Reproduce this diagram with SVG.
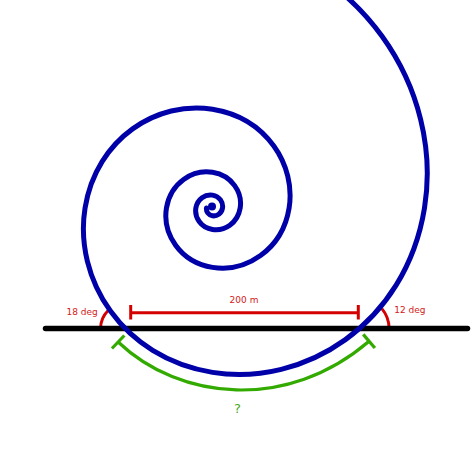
<svg xmlns="http://www.w3.org/2000/svg" width="474" height="474" viewBox="0 0 474 474">
  <style>
    .spiral { fill: none; stroke: #0000a8; stroke-width: 5; stroke-linecap: round; }
    .ground { fill: none; stroke: #000000; stroke-width: 5.5; stroke-linecap: round; }
    .red { fill: none; stroke: #d40000; stroke-width: 3; }
    .green { fill: none; stroke: #33aa00; stroke-width: 3.2; }
    .lbl { font-family: "DejaVu Sans", "Liberation Sans", sans-serif; }
    .lred { fill: #d42020; font-size: 9px; }
    .lgreen { fill: #44aa22; font-size: 13px; }
  </style>
  <rect width="474" height="474" fill="#ffffff"/>
  <g id="angle-arcs">
    <path class="red" d="M 100.6 328.5 A 25 25 0 0 1 107.9 310.8"/>
    <path class="red" d="M 389.1 328.5 A 31 31 0 0 0 381.85 308.6"/>
  </g>
  <g id="ground-line">
    <line class="ground" x1="45.5" y1="328.5" x2="467.5" y2="328.5"/>
  </g>
  <g id="spiral" transform="translate(0.5 1)">
    <path class="spiral" d="M 212 -66.43
      C 363.01 -41.97 442.97 89.92 424 207
      C 405.03 324.08 302.78 386.08 212 371.37
      C 121.22 356.66 73.16 277.38 84.56 207
      C 95.96 136.62 157.43 99.35 212 108.19
      C 266.57 117.03 295.46 164.69 288.61 207
      C 281.76 249.31 244.80 271.70 212 266.39
      C 179.20 261.08 161.83 232.43 165.95 207
      C 170.07 181.57 192.28 168.11 212 171.30
      C 231.72 174.49 242.16 191.71 239.68 207
      C 237.20 222.29 223.85 230.38 212 228.46
      C 200.15 226.54 193.87 216.19 195.36 207
      C 196.85 197.81 204.88 192.95 212 194.10
      C 219.12 195.25 222.89 201.48 222 207
      C 221.11 212.52 216.28 215.45 212 214.76
      C 207.72 214.07 205.45 210.32 205.99 207"/>
    <circle cx="211.5" cy="205.5" r="4" fill="#0000a8"/>
  </g>
  <g id="distance-200m">
    <line class="red" x1="130.7" y1="312.7" x2="358.3" y2="312.7"/>
    <line class="red" x1="130.7" y1="305" x2="130.7" y2="319.5"/>
    <line class="red" x1="358.3" y1="305" x2="358.3" y2="319.5"/>
    <text class="lbl lred" x="244" y="303.3" text-anchor="middle" font-size="8.5">200 m</text>
  </g>
  <g id="arc-length">
    <path class="green" d="M 118.13 342.0 C 180.10 400.95 287.51 411.18 369.05 341.2"/>
    <line class="green" x1="111.93" y1="348.5" x2="124.33" y2="335.5"/>
    <line class="green" x1="363.2" y1="334.4" x2="374.9" y2="348.0"/>
    <text class="lbl lgreen" x="237.5" y="412.5" text-anchor="middle">?</text>
  </g>
  <g id="angle-labels">
    <text class="lbl lred" x="66.5" y="314.5">18 deg</text>
    <text class="lbl lred" x="394.3" y="313">12 deg</text>
  </g>
</svg>
